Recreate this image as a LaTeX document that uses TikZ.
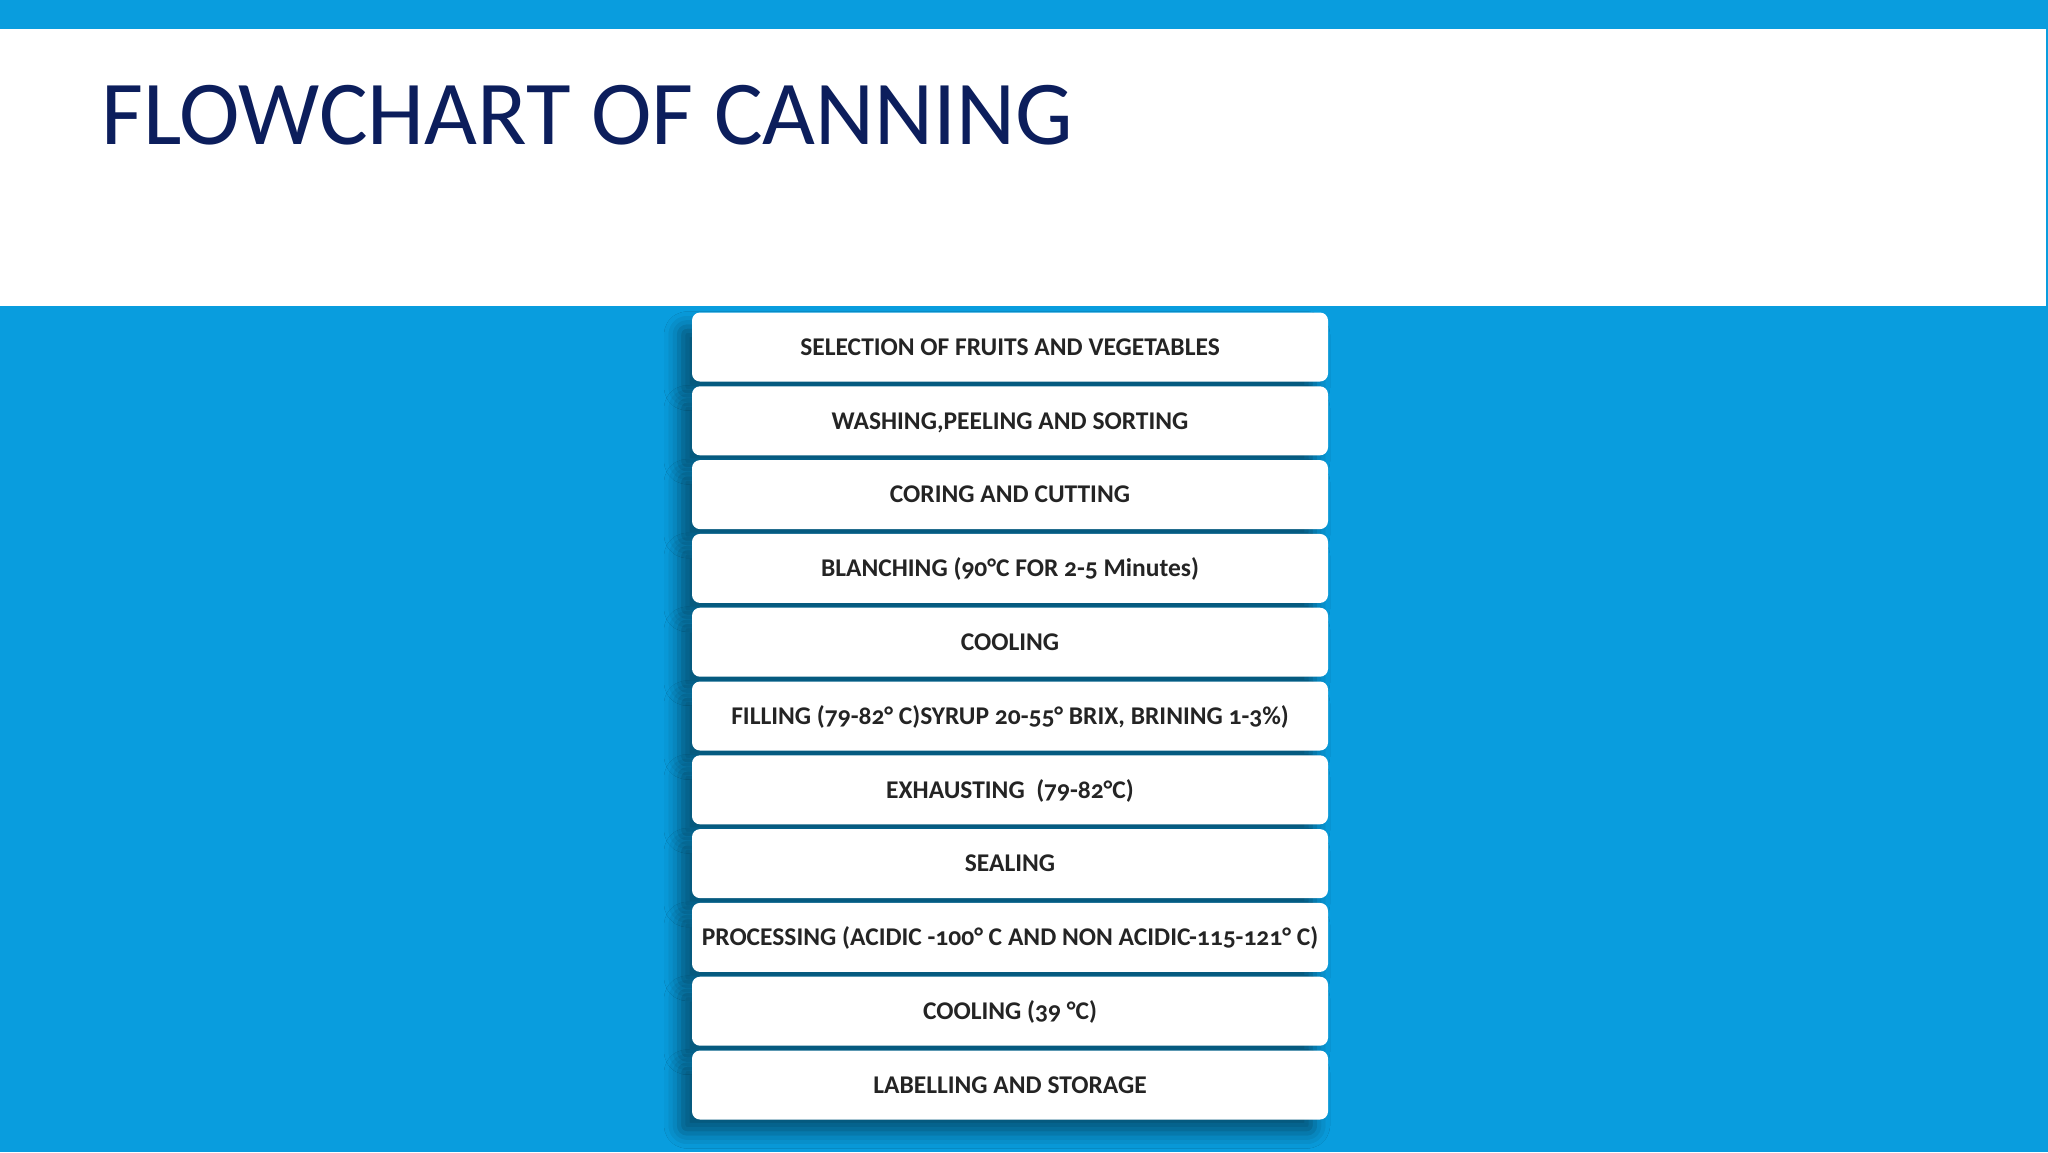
\documentclass[tikz,border=0pt]{standalone}
\usepackage{fontspec}
\setmainfont{Carlito}[Numbers=OldStyle]
\usetikzlibrary{calc,shadows.blur}

\definecolor{slideblue}{RGB}{9,157,222}
\definecolor{titlenavy}{RGB}{12,30,92}
\definecolor{steptext}{RGB}{36,36,36}

\tikzset{
  stepbox/.style={fill=white, rounded corners=8pt, minimum width=636pt,
    minimum height=69pt, inner sep=0pt, text=steptext,
    text height=16.4pt, text depth=0pt,
    font=\fontsize{25.5}{30}\selectfont\bfseries,
    blur shadow={shadow xshift=-13pt, shadow yshift=-14pt,
      shadow blur radius=15pt, shadow opacity=45}},
  titletext/.style={anchor=base west, inner sep=0pt, text=titlenavy,
    font=\fontsize{91.3}{100}\selectfont}
}

\begin{document}
\begin{tikzpicture}[x=1pt,y=-1pt]
\useasboundingbox (0,0) rectangle (2048,1152);
\fill[slideblue] (0,0) rectangle (2048,1152);
\fill[white] (0,29) rectangle (2046,306);
\node[titletext] (T) at (101,144) {FLOWCHART OF CANNING};
% steps of the canning process
\coordinate (S0) at (1010,347);
  \node[stepbox] (S1) at (S0) {SELECTION OF FRUITS AND VEGETABLES};
  \node[stepbox] (S2) at ($(S1)+(0,73.8)$) {WASHING,PEELING AND SORTING};
  \node[stepbox] (S3) at ($(S2)+(0,73.8)$) {CORING AND CUTTING};
  \node[stepbox] (S4) at ($(S3)+(0,73.8)$) {BLANCHING (90°C FOR 2-5 Minutes)};
  \node[stepbox] (S5) at ($(S4)+(0,73.8)$) {COOLING};
  \node[stepbox] (S6) at ($(S5)+(0,73.8)$) {FILLING (79-82° C)SYRUP 20-55° BRIX, BRINING 1-3\%)};
  \node[stepbox] (S7) at ($(S6)+(0,73.8)$) {EXHAUSTING\ \ (79-82°C)};
  \node[stepbox] (S8) at ($(S7)+(0,73.8)$) {SEALING};
  \node[stepbox] (S9) at ($(S8)+(0,73.8)$) {PROCESSING (ACIDIC -100° C AND NON ACIDIC-115-121° C)};
  \node[stepbox] (S10) at ($(S9)+(0,73.8)$) {COOLING (39 °C)};
  \node[stepbox] (S11) at ($(S10)+(0,73.8)$) {LABELLING AND STORAGE};
\end{tikzpicture}
\end{document}
